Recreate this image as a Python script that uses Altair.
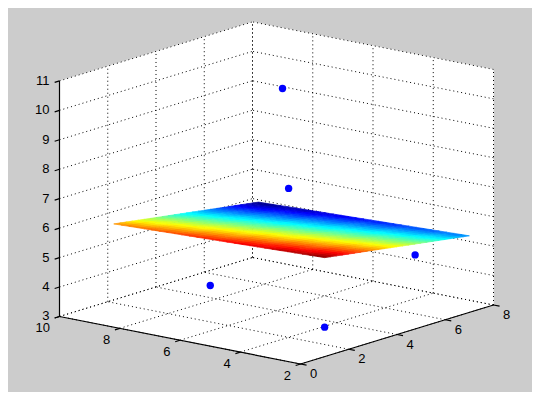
import altair as alt
import numpy as np
import pandas as pd

# Scatter points (x, y, z)
pts_x = [1, 3, 5, 6, 7]
pts_y = [2, 5, 9, 3, 8]
pts_z = [4, 11, 3, 5, 6]

# Axis ticks
x_ticks = [0, 2, 4, 6, 8]
y_ticks = [2, 4, 6, 8, 10]
z_ticks = [3, 4, 5, 6, 7, 8, 9, 10, 11]

X0, X1 = x_ticks[0], x_ticks[-1]
Y0, Y1 = y_ticks[0], y_ticks[-1]
Z0, Z1 = z_ticks[0], z_ticks[-1]


def project(x, y, z):
    """Orthographic view (screen pixels of the 540x400 figure)."""
    px = 300.5 + 24.125 * (x - X0) - 30.125 * (y - Y0)
    py = 364.0 - 7.375 * (x - X0) - 5.94 * (y - Y0) - 29.45 * (z - Z0)
    return px, py


def jet(t):
    t = min(max(t, 0.0), 0.9999)
    t = (int(t * 64) + 0.5) / 64
    r = min(max(min(4 * t - 1.5, -4 * t + 4.5), 0), 1)
    g = min(max(min(4 * t - 0.5, -4 * t + 3.5), 0), 1)
    b = min(max(min(4 * t + 0.5, -4 * t + 2.5), 0), 1)
    return "#%02x%02x%02x" % (round(r * 255), round(g * 255), round(b * 255))


def seg_rows(segments):
    rows = []
    for i, (a, b) in enumerate(segments):
        for j, p in enumerate((a, b)):
            px, py = project(*p)
            rows.append({"px": px, "py": py, "seg": i, "o": j})
    return pd.DataFrame(rows)


X_ENC = alt.X("px:Q", scale=alt.Scale(domain=[8, 532], nice=False, zero=False), axis=None)
Y_ENC = alt.Y("py:Q", scale=alt.Scale(domain=[392, 8], nice=False, zero=False), axis=None)

# White box (walls and floor)
box = [(X0, Y1, Z1), (X1, Y1, Z1), (X1, Y0, Z1), (X1, Y0, Z0), (X0, Y0, Z0), (X0, Y1, Z0)]
box_df = pd.DataFrame(
    [dict(zip(("px", "py"), project(*p)), o=i) for i, p in enumerate(box)]
)
box_layer = alt.Chart(box_df).mark_line(fill="white", stroke="white", strokeWidth=0.5, interpolate="linear-closed").encode(
    x=X_ENC, y=Y_ENC, order="o:Q"
)

# Dotted grid
grid = []
for x in x_ticks:
    grid.append(((x, Y1, Z0), (x, Y1, Z1)))
    grid.append(((x, Y0, Z0), (x, Y1, Z0)))
for y in y_ticks:
    grid.append(((X1, y, Z0), (X1, y, Z1)))
    grid.append(((X0, y, Z0), (X1, y, Z0)))
for z in z_ticks:
    grid.append(((X0, Y1, z), (X1, Y1, z)))
    grid.append(((X1, Y0, z), (X1, Y1, z)))
grid_layer = alt.Chart(seg_rows(grid)).mark_line(
    color="black", strokeWidth=1, strokeDash=[1, 3]
).encode(x=X_ENC, y=Y_ENC, detail="seg:N", order="o:Q")

# Fitted plane surface through the points, coloured by height
A = np.column_stack([np.ones(len(pts_x)), pts_x, pts_y])
coef = np.linalg.lstsq(A, np.array(pts_z, float), rcond=None)[0]
plane = lambda x, y: coef[0] + coef[1] * x + coef[2] * y
sx = np.arange(min(pts_x), max(pts_x) + 1e-9, 0.25)
sy = np.arange(min(pts_y), max(pts_y) + 1e-9, 0.25)
zlo = plane(sx[-1], sy[-1])
zhi = plane(sx[0], sy[0])
rows = []
cid = 0
for i in range(len(sx) - 1):
    for j in range(len(sy) - 1):
        col = jet((plane(sx[i] + 0.125, sy[j] + 0.125) - zlo) / (zhi - zlo))
        for k, (u, v) in enumerate(
            [(sx[i], sy[j]), (sx[i + 1], sy[j]), (sx[i + 1], sy[j + 1]), (sx[i], sy[j + 1])]
        ):
            px, py = project(u, v, plane(u, v))
            rows.append({"px": px, "py": py, "cell": cid, "o": k, "col": col})
        cid += 1
surf_layer = alt.Chart(pd.DataFrame(rows)).mark_line(
    strokeWidth=0.7, interpolate="linear-closed"
).encode(
    x=X_ENC,
    y=Y_ENC,
    detail="cell:N",
    order="o:Q",
    fill=alt.Fill("col:N", scale=None),
    stroke=alt.Stroke("col:N", scale=None),
)

# Axis lines and tick marks
axes = [
    ((X0, Y1, Z0), (X0, Y1, Z1)),
    ((X0, Y0, Z0), (X1, Y0, Z0)),
    ((X0, Y0, Z0), (X0, Y1, Z0)),
]
TICK = 0.2
for x in x_ticks:
    axes.append(((x, Y0, Z0), (x, Y0 - TICK, Z0)))
for y in y_ticks:
    axes.append(((X0, y, Z0), (X0 - TICK, y, Z0)))
for z in z_ticks:
    axes.append(((X0, Y1, z), (X0 - TICK, Y1, z)))
axes_layer = alt.Chart(seg_rows(axes)).mark_line(color="black", strokeWidth=1.2).encode(
    x=X_ENC, y=Y_ENC, detail="seg:N", order="o:Q"
)

# Points
pp = [project(*p) for p in zip(pts_x, pts_y, pts_z)]
pts_df = pd.DataFrame({"px": [p[0] for p in pp], "py": [p[1] for p in pp]})
pts_layer = alt.Chart(pts_df).mark_point(filled=True, color="#0000ff", opacity=1, size=54).encode(
    x=X_ENC, y=Y_ENC
)

# Tick labels
labels = []
for x in x_ticks:
    px, py = project(x, Y0, Z0)
    labels.append({"px": px + 13, "py": py + 10, "t": str(x), "a": "x"})
for y in y_ticks:
    px, py = project(X0, y, Z0)
    labels.append({"px": px - 9.5, "py": py + 11.5, "t": str(y), "a": "y"})
for z in z_ticks:
    px, py = project(X0, Y1, z)
    labels.append({"px": px - 10, "py": py, "t": str(z), "a": "z"})
lab_df = pd.DataFrame(labels)
FONT = dict(font="Liberation Sans", fontSize=13, color="black", baseline="middle")
lab_x = alt.Chart(lab_df[lab_df.a == "x"]).mark_text(align="center", **FONT).encode(x=X_ENC, y=Y_ENC, text="t:N")
lab_r = alt.Chart(lab_df[lab_df.a != "x"]).mark_text(align="right", **FONT).encode(x=X_ENC, y=Y_ENC, text="t:N")

chart = alt.layer(
    box_layer, grid_layer, surf_layer, axes_layer, pts_layer, lab_x, lab_r
).properties(
    width=524,
    height=384,
    padding=0,
    autosize=alt.AutoSizeParams(type="none"),
    background="#cccccc",
).configure_view(stroke=None)

chart.save("out.html", embed_options={"renderer": "svg", "actions": False})
